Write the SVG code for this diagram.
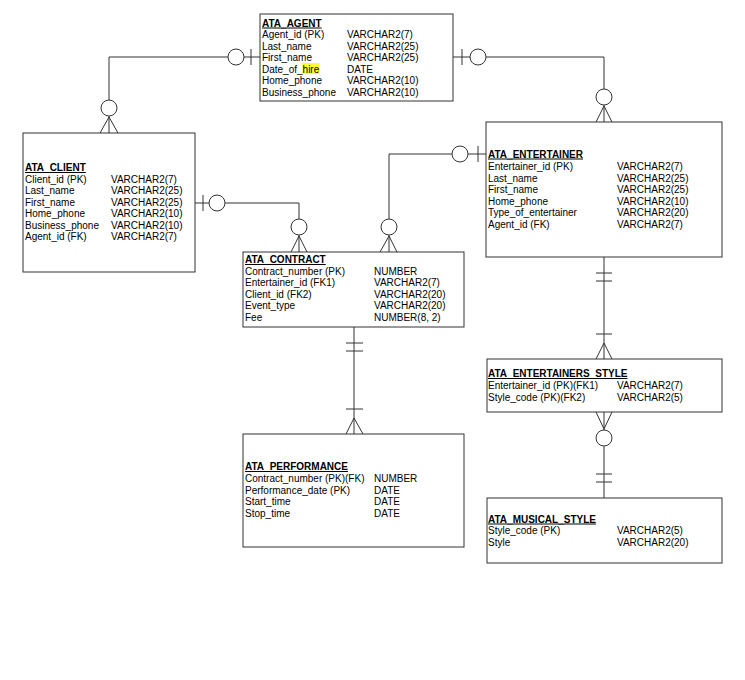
<svg xmlns="http://www.w3.org/2000/svg" width="745" height="680" viewBox="0 0 745 680">
<style>
.box{fill:#fff;stroke:#333;stroke-width:1}
text{font-family:"Liberation Sans",Arial,sans-serif;font-size:10px;fill:#000}
.t{font-weight:bold;text-decoration:underline}
.c{fill:none;stroke:#333;stroke-width:1}
.o{fill:#fff;stroke:#333;stroke-width:1}
</style>
<rect width="745" height="680" fill="#fff"/>
<g id="connectors">
<!-- Agent - Client -->
<path class="c" d="M260,57 H244 M228,57 H109 V100 M251,49 V65 M100,133 L109,117 L118,133 M109,116 V133"/>
<circle class="o" cx="236" cy="57" r="8"/>
<circle class="o" cx="109" cy="108" r="8"/>
<!-- Agent - Entertainer -->
<path class="c" d="M453,57 H470 M486,57 H604 V89 M462,49 V65 M596,122 L604,106 L612,122 M604,105 V122"/>
<circle class="o" cx="478" cy="57" r="8"/>
<circle class="o" cx="604" cy="97" r="8"/>
<!-- Client - Contract -->
<path class="c" d="M195,203 H209 M225,203 H299 V219 M203,195 V211 M291,252 L299,236 L307,252 M299,235 V252"/>
<circle class="o" cx="217" cy="203" r="8"/>
<circle class="o" cx="299" cy="227" r="8"/>
<!-- Entertainer - Contract -->
<path class="c" d="M486,154 H468 M452,154 H389 V219 M478,146 V162 M380,252 L389,236 L397,252 M389,235 V252"/>
<circle class="o" cx="460" cy="154" r="8"/>
<circle class="o" cx="389" cy="227" r="8"/>
<!-- Contract - Performance -->
<path class="c" d="M354,327 V434 M346,343 H363 M346,351 H363 M346,409 H363 M346,434 L354,418 L363,434"/>
<!-- Entertainer - Entertainers_style -->
<path class="c" d="M604,257 V359 M596,273 H612 M596,281 H612 M596,334 H612 M596,359 L604,343 L612,359"/>
<!-- Entertainers_style - Musical_style -->
<path class="c" d="M596,412 L604,429 L612,412 M604,412 V430 M604,446 V498 M596,474 H612 M596,482 H612"/>
<circle class="o" cx="604" cy="438" r="8"/>
</g>
<g id="ata_agent">
<rect class="box" x="260" y="14" width="193" height="87"/>
<rect x="302.5" y="63" width="17" height="11" fill="#ffff33"/>
<text class="t" x="262" y="26.5">ATA_AGENT</text>
<text x="262" y="38">Agent_id (PK)</text><text x="347" y="38">VARCHAR2(7)</text>
<text x="262" y="49.5">Last_name</text><text x="347" y="49.5">VARCHAR2(25)</text>
<text x="262" y="61">First_name</text><text x="347" y="61">VARCHAR2(25)</text>
<text x="262" y="72.5">Date_of_hire</text><text x="347" y="72.5">DATE</text>
<text x="262" y="84">Home_phone</text><text x="347" y="84">VARCHAR2(10)</text>
<text x="262" y="95.5">Business_phone</text><text x="347" y="95.5">VARCHAR2(10)</text>
</g>
<g id="ata_client">
<rect class="box" x="23" y="133" width="172" height="139"/>
<text class="t" x="25" y="171">ATA_CLIENT</text>
<text x="25" y="182.5">Client_id (PK)</text><text x="111" y="182.5">VARCHAR2(7)</text>
<text x="25" y="194">Last_name</text><text x="111" y="194">VARCHAR2(25)</text>
<text x="25" y="205.5">First_name</text><text x="111" y="205.5">VARCHAR2(25)</text>
<text x="25" y="217">Home_phone</text><text x="111" y="217">VARCHAR2(10)</text>
<text x="25" y="228.5">Business_phone</text><text x="111" y="228.5">VARCHAR2(10)</text>
<text x="25" y="240">Agent_id (FK)</text><text x="111" y="240">VARCHAR2(7)</text>
</g>
<g id="ata_entertainer">
<rect class="box" x="486" y="122" width="236" height="135"/>
<text class="t" x="488" y="157.5">ATA_ENTERTAINER</text>
<text x="488" y="170">Entertainer_id (PK)</text><text x="617" y="170">VARCHAR2(7)</text>
<text x="488" y="181.5">Last_name</text><text x="617" y="181.5">VARCHAR2(25)</text>
<text x="488" y="193">First_name</text><text x="617" y="193">VARCHAR2(25)</text>
<text x="488" y="204.5">Home_phone</text><text x="617" y="204.5">VARCHAR2(10)</text>
<text x="488" y="216">Type_of_entertainer</text><text x="617" y="216">VARCHAR2(20)</text>
<text x="488" y="227.5">Agent_id (FK)</text><text x="617" y="227.5">VARCHAR2(7)</text>
</g>
<g id="ata_contract">
<rect class="box" x="243" y="252" width="221" height="75"/>
<text class="t" x="245" y="263">ATA_CONTRACT</text>
<text x="245" y="274.5">Contract_number (PK)</text><text x="374" y="274.5">NUMBER</text>
<text x="245" y="286">Entertainer_id (FK1)</text><text x="374" y="286">VARCHAR2(7)</text>
<text x="245" y="297.5">Client_id (FK2)</text><text x="374" y="297.5">VARCHAR2(20)</text>
<text x="245" y="309">Event_type</text><text x="374" y="309">VARCHAR2(20)</text>
<text x="245" y="320.5">Fee</text><text x="374" y="320.5">NUMBER(8, 2)</text>
</g>
<g id="ata_performance">
<rect class="box" x="243" y="434" width="221" height="113"/>
<text class="t" x="245" y="470">ATA_PERFORMANCE</text>
<text x="245" y="482">Contract_number (PK)(FK)</text><text x="374" y="482">NUMBER</text>
<text x="245" y="493.5">Performance_date (PK)</text><text x="374" y="493.5">DATE</text>
<text x="245" y="505">Start_time</text><text x="374" y="505">DATE</text>
<text x="245" y="516.5">Stop_time</text><text x="374" y="516.5">DATE</text>
</g>
<g id="ata_entertainers_style">
<rect class="box" x="487" y="359" width="235" height="53"/>
<text class="t" x="488" y="377">ATA_ENTERTAINERS_STYLE</text>
<text x="488" y="389">Entertainer_id (PK)(FK1)</text><text x="617" y="389">VARCHAR2(7)</text>
<text x="488" y="400.5">Style_code (PK)(FK2)</text><text x="617" y="400.5">VARCHAR2(5)</text>
</g>
<g id="ata_musical_style">
<rect class="box" x="487" y="498" width="235" height="65"/>
<text class="t" x="488" y="522.5">ATA_MUSICAL_STYLE</text>
<text x="488" y="534">Style_code (PK)</text><text x="617" y="534">VARCHAR2(5)</text>
<text x="488" y="545.5">Style</text><text x="617" y="545.5">VARCHAR2(20)</text>
</g>
</svg>
